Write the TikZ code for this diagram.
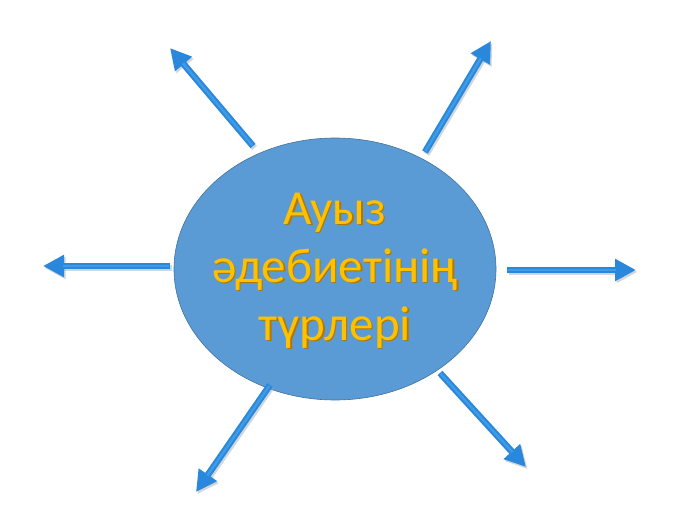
\documentclass[tikz,border=0pt]{standalone}
\usepackage{fontspec}
\setmainfont{Carlito}
\usetikzlibrary{arrows.meta,shapes.geometric}
\definecolor{ellfill}{HTML}{5B9BD5}
\definecolor{elledge}{HTML}{41719C}
\definecolor{arrblue}{HTML}{2A88DC}
\definecolor{arrlight}{HTML}{3E9BE6}
\definecolor{arrshadow}{HTML}{9AA4AE}
\definecolor{txtgold}{HTML}{FFC000}
\definecolor{txtdark}{HTML}{B07800}
\tikzset{
  bubble/.style={ellipse, draw=elledge, line width=0.6pt, fill=ellfill, minimum width=322pt, minimum height=262pt, inner sep=0pt},
  ray/.style={draw=arrblue, line width=6.5pt, -{Triangle[length=21pt,width=21pt]}},
  rayhi/.style={draw=arrlight, line width=2.5pt, shorten >=20pt, shorten <=1pt},
  rayshadow/.style={draw=arrshadow, opacity=0.45, line width=6.5pt, -{Triangle[length=21pt,width=21pt]}},
  title/.style={align=center, font=\fontsize{49}{58}\selectfont, inner sep=0pt}
}
\begin{document}
\begin{tikzpicture}[x=1pt,y=-1pt]
\useasboundingbox (0,0) rectangle (678,530);
\node[bubble] (c) at (335,269) {};
% text shadow and text
\node[title, text=txtdark] (tshadow) at (336.2,271.7) {Ауыз\\әдебиетінің\\түрлері};
\node[title, text=txtgold] (t) at (335,270.5) {Ауыз\\әдебиетінің\\түрлері};
% arrow coordinates
\coordinate (a1s) at (253,146); \coordinate (a1e) at (170,48);
\coordinate (a2s) at (425,152); \coordinate (a2e) at (491,41);
\coordinate (a3s) at (170,266); \coordinate (a3e) at (43,266);
\coordinate (a4s) at (507,270); \coordinate (a4e) at (636,270);
\coordinate (a5s) at (270,385); \coordinate (a5e) at (196,492);
\coordinate (a6s) at (440,373); \coordinate (a6e) at (526,467);
\foreach \i in {1,...,6}{
  \draw[rayshadow, transform canvas={shift={(1.5pt,-2pt)}}] (a\i s) -- (a\i e);
}
\foreach \i in {1,...,6}{
  \draw[ray] (a\i s) -- (a\i e);
  \draw[rayhi] (a\i s) -- (a\i e);
}
\end{tikzpicture}
\end{document}
